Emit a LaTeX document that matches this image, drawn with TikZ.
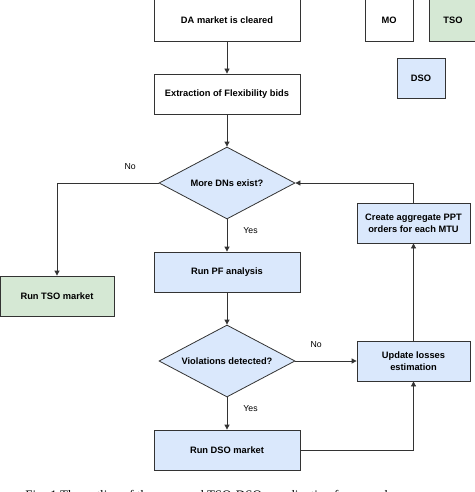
\documentclass[tikz,border=0pt]{standalone}
\usepackage{fontspec}
\setmainfont{Liberation Serif}
\newfontfamily\flowfont{Liberation Sans}
\usetikzlibrary{shapes.geometric,arrows.meta}

\definecolor{dsoblue}{HTML}{DAE8FC}
\definecolor{tsogreen}{HTML}{D5E8D4}
\definecolor{boxline}{HTML}{333333}

\begin{document}
\begin{tikzpicture}[x=1pt,y=-1pt,>={Triangle[length=5pt,width=5pt]},
                    line width=0.8pt,draw=boxline,
                    box/.style={rectangle,draw=boxline,minimum width=146pt,
                      minimum height=40pt,align=center,
                      font=\flowfont\fontsize{9.3}{12}\selectfont\bfseries},
                    sidebox/.style={box,fill=dsoblue,minimum width=113pt},
                    legend/.style={box,minimum width=48pt},
                    decision/.style={diamond,draw=boxline,fill=dsoblue,aspect=1.9,
                      minimum width=136pt,minimum height=72pt,inner sep=0pt,
                      font=\flowfont\fontsize{9.3}{12}\selectfont\bfseries},
                    lbl/.style={inner sep=0pt,font=\flowfont\fontsize{8.7}{10}\selectfont}]

  \useasboundingbox (0,0) rectangle (474,492);

  % main column
  \node[box,minimum height=42pt]  (da)   at (227,20)  {DA market is cleared};
  \node[box]                      (ext)  at (227,94)  {Extraction of Flexibility bids};
  \node[decision]                 (more) at (227,183) {More DNs exist?};
  \node[box,fill=dsoblue]         (pf)   at (227,272) {Run PF analysis};
  \node[decision]                 (viol) at (227,361) {Violations detected?};
  \node[box,fill=dsoblue]         (dso)  at (227,450) {Run DSO market};

  % side boxes
  \node[box,fill=tsogreen,minimum width=114pt] (tsom) at (57,296)   {Run TSO market};
  \node[sidebox]                  (upd)  at (413.5,361) {Update losses\\estimation};
  \node[sidebox]                  (agg)  at (413.5,223) {Create aggregate PPT\\orders for each MTU};

  % legend
  \node[legend,minimum height=42pt]               (mo)  at (389,20) {MO};
  \node[legend,minimum height=42pt,fill=tsogreen] (tso) at (453,20) {TSO};
  \node[legend,fill=dsoblue]                      (dsol) at (421,78) {DSO};

  \path[->] (da)   edge (ext)
            (ext)  edge (more)
            (more) edge node[lbl,pos=0.35,right=16pt] {Yes} (pf)
            (pf)   edge (viol)
            (viol) edge node[lbl,pos=0.36,right=16pt] {Yes} (dso)
                   edge node[lbl,pos=0.34,above=13pt] {No} (upd)
            (upd)  edge (agg);

  \draw[->] (more.west) -| node[lbl,pos=0.14,above=13pt] {No} (tsom.north);
  \draw[->] (dso.east) -| (upd.south);
  \draw[->] (agg.north) |- (more.east);

  % caption
  \node[anchor=base west,inner sep=0pt,font=\fontsize{13}{15}\selectfont] (cap)
    at (25,499) {Fig. 1 The outline of the proposed TSO-DSO coordination framework};
\end{tikzpicture}
\end{document}
